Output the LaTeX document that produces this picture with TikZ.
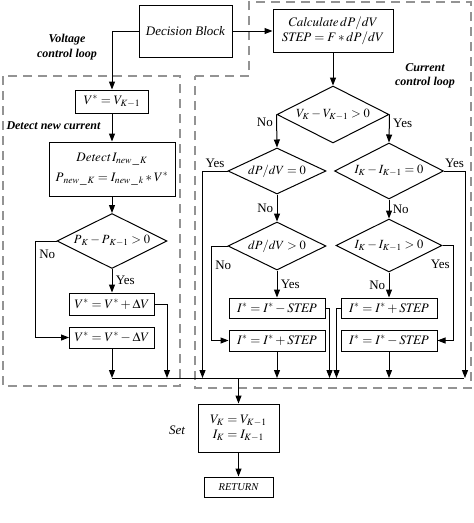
\documentclass[tikz,border=0pt]{standalone}
\usepackage{mathptmx}
\usepackage{fontspec}
\setmainfont{Liberation Serif}
\usetikzlibrary{shapes.geometric, arrows.meta}

\begin{document}
\begin{tikzpicture}[x=1pt, y=-1pt,
    font=\fontsize{13}{15.5}\selectfont,
    blk/.style={draw, line width=1pt, align=center, inner sep=1pt},
    dec/.style={draw, line width=1pt, diamond, aspect=2, inner sep=0pt, font=\fontsize{12.5}{15}\selectfont},
    flow/.style={line width=1pt, -{Triangle[length=8pt, width=6pt]}},
    link/.style={line width=1pt},
    tag/.style={font=\fontsize{12}{14.5}\selectfont\bfseries\itshape, align=center},
    loopbox/.style={draw=gray!85, line width=1.4pt, dash pattern=on 9pt off 6pt}
    ]
    \useasboundingbox (0,0) rectangle (474,523);
    \draw[loopbox] (3,76) rectangle (180,386);
    \draw[loopbox] (195,76) -- (249,76) -- (249,2) -- (471,2) -- (471,388) -- (195,388) -- cycle;

    \node[blk, minimum width=93pt, minimum height=52pt] (decide) at (185.5,31) {\textit{Decision Block}};
    \node[blk, minimum width=120pt, minimum height=43pt] (calc) at (333,31)
      {$\mathit{Calculate}\,dP/dV$\\$\mathit{STEP}=F*dP/dV$};

    \node[blk, minimum width=73pt, minimum height=23pt] (vset) at (112,101.5) {$V^{*}=V_{K-1}$};
    \node[blk, minimum width=126pt, minimum height=54pt] (detect) at (112,169)
      {$\mathit{Detect}\,I_{new\,\_\,K}$\\[5pt]$P_{\mkern3mu new\,\_\,K}=I_{new\,\_\,k}*V^{*}$};
    \node[dec, minimum width=110pt, minimum height=55pt] (dp) at (112,241) {$P_{\mkern3mu K}-P_{\mkern3mu K-1}>0$};
    \node[blk, minimum width=85pt, minimum height=22pt] (vinc) at (112,304) {$V^{*}=V^{*}+\Delta V$};
    \node[blk, minimum width=85pt, minimum height=21pt] (vdec) at (112,337.5) {$V^{*}=V^{*}-\Delta V$};

    \node[dec, minimum width=112pt, minimum height=57pt] (dv) at (333,114.5) {$V_K-V_{K-1}>0$};
    \node[dec, minimum width=98pt, minimum height=46pt] (slopez) at (277,171) {$dP/dV=0$};
    \node[dec, minimum width=109pt, minimum height=56pt] (diz) at (389,171) {$I_K-I_{K-1}=0$};
    \node[dec, minimum width=98pt, minimum height=48pt] (slopep) at (277,246) {$dP/dV>0$};
    \node[dec, minimum width=106pt, minimum height=53pt] (dip) at (389,245.5) {$I_K-I_{K-1}>0$};
    \node[blk, minimum width=96pt, minimum height=20pt] (iminl) at (277,308) {$I^{*}=I^{*}-\mathit{STEP}$};
    \node[blk, minimum width=96pt, minimum height=21pt] (ipll) at (277,340.5) {$I^{*}=I^{*}+\mathit{STEP}$};
    \node[blk, minimum width=96pt, minimum height=20pt] (iplr) at (389,308) {$I^{*}=I^{*}+\mathit{STEP}$};
    \node[blk, minimum width=96pt, minimum height=21pt] (iminr) at (389,340.5) {$I^{*}=I^{*}-\mathit{STEP}$};

    \node[blk, minimum width=81pt, minimum height=48pt] (setb) at (238.5,428) {$V_K=V_{K-1}$\\$I_K=I_{K-1}$};
    \node[blk, minimum width=69pt, minimum height=20pt, font=\fontsize{10.5}{12}\selectfont\itshape] (ret) at (238.5,487) {RETURN};

    \node[tag] (vloop) at (67,47) {Voltage\\control loop};
    \node[tag] (newcur) at (53.5,126) {Detect new current};
    \node[tag] (cloop) at (425,76) {Current\\control loop};
    \node[font=\fontsize{13}{15.5}\selectfont\itshape] (setlbl) at (177,430) {Set};

    \coordinate (busl) at (112,378);
    \coordinate (busr) at (464,378);

    \draw[flow] (decide.west) -| (vset.north);
    \draw[flow] (decide.east) -- (calc.west);
    \draw[flow] (vset.south) -- (detect.north);
    \draw[flow] (detect.south) -- (dp.north);
    \draw[flow] (dp.south) -- node[right] {Yes} (vinc.north);
    \draw[flow] (dp.west) -- ++(-21,0) |- node[pos=0.07, right] {No} (vdec.west);
    \draw[flow] (vinc.east) -- ++(12,0) coordinate (t1) -- (t1 |- busl);
    \draw[flow] (vdec.south) -- (vdec.south |- busl);

    \draw[flow] (calc.south) -- (dv.north);
    \draw[flow] (dv.west) -- node[pos=0.25, left] {No} (slopez.north);
    \draw[flow] (dv.east) -- node[pos=0.3, right] {Yes} (diz.north);
    \draw[flow] (slopez.west) -- node[above] {Yes} ++(-25,0) coordinate (t2) -- (t2 |- busl);
    \draw[flow] (diz.east) -- node[above] {Yes} ++(21,0) coordinate (t3) -- (t3 |- busl);
    \draw[flow] (slopez.south) -- node[left] {No} (slopep.north);
    \draw[flow] (diz.south) -- node[right] {No} (dip.north);
    \draw[flow] (slopep.west) -- ++(-16,0) |- node[pos=0.1, right] {No} (ipll.west);
    \draw[flow] (slopep.south) -- node[right] {Yes} (iminl.north);
    \draw[flow] (dip.south) -- node[left] {No} (iplr.north);
    \draw[flow] (dip.east) -- ++(11,0) |- node[pos=0.1, left] {Yes} (iminr.east);
    \draw[flow] (iminl.east) -- ++(4,0) coordinate (t4) -- (t4 |- busl);
    \draw[flow] (iplr.west) -- ++(-4,0) coordinate (t5) -- (t5 |- busl);
    \draw[flow] (ipll.south) -- (ipll.south |- busl);
    \draw[flow] (iminr.south) -- (iminr.south |- busl);

    \draw[link] (busl) -- (busr);
    \draw[flow] (setb.north |- busl) -- (setb.north);
    \draw[flow] (setb.south) -- (ret.north);
\end{tikzpicture}
\end{document}
